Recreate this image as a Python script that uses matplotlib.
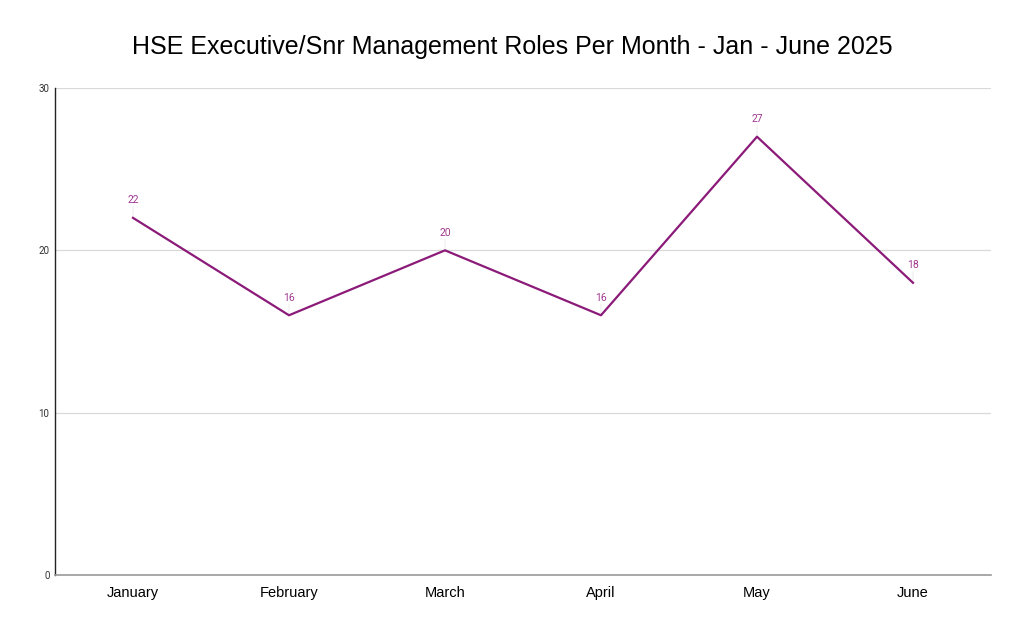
import matplotlib.pyplot as plt

months = ["January", "February", "March", "April", "May", "June"]
roles = [22, 16, 20, 16, 27, 18]
y_ticks = [0, 10, 20, 30]

LINE_COLOR = "#8b1a78"
LABEL_COLOR = "#a0398f"


def main():
    fig = plt.figure(figsize=(10.24, 6.33), dpi=100)
    ax = fig.add_axes([55 / 1024, 1 - 575 / 633, (991 - 55) / 1024, (575 - 88) / 633])

    x = list(range(len(months)))
    ax.plot(x, roles, color=LINE_COLOR, linewidth=1.6, zorder=3)
    for xi, v in zip(x, roles):
        # faint leader line from the point up to its label
        ax.annotate("", (xi, v), xytext=(0, 8), textcoords="offset points",
                    arrowprops=dict(arrowstyle="-", color="#eeeeee", lw=0.8,
                                    shrinkA=0, shrinkB=0), zorder=2)
        ax.annotate(str(v), (xi, v), xytext=(0, 9), textcoords="offset points",
                    ha="center", va="bottom", fontsize=7.5, color=LABEL_COLOR,
                    family="Roboto")

    ax.set_xlim(-0.5, len(months) - 0.5)
    ax.set_ylim(0, 30)
    ax.set_yticks(y_ticks)
    ax.set_yticklabels([str(t) for t in y_ticks], fontsize=7, family="Roboto", color="#333333")
    ax.set_xticks(x)
    ax.set_xticklabels(months, fontsize=10.5, family="Liberation Sans", color="#000000",
                       va="baseline")
    ax.tick_params(axis="y", length=0, pad=4)
    ax.tick_params(axis="x", length=0, pad=16)
    ax.grid(axis="y", color="#d9d9d9", linewidth=0.9)
    ax.set_axisbelow(True)
    for s in ["top", "right"]:
        ax.spines[s].set_visible(False)
    ax.spines["left"].set_color("#222222")
    ax.spines["left"].set_linewidth(1.0)
    ax.spines["bottom"].set_color("#999999")
    ax.spines["bottom"].set_linewidth(1.2)

    fig.text(0.5, 1 - 47 / 633, "HSE Executive/Snr Management Roles Per Month - Jan - June 2025",
             ha="center", va="center", fontsize=18, family="Liberation Sans", color="#000000")

    fig.savefig("out.png", dpi=100)


if __name__ == "__main__":
    main()
